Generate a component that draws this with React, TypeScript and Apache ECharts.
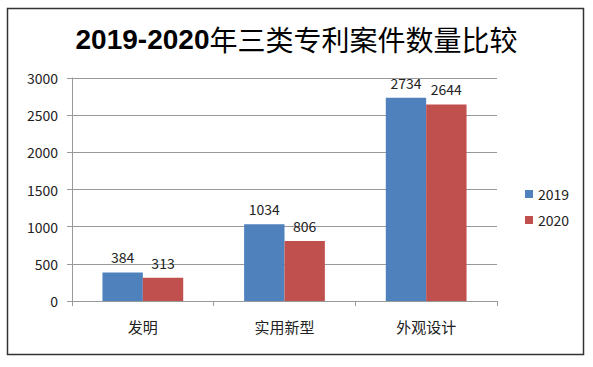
import React, { useEffect, useRef } from "react";
import * as echarts from "echarts";

const categories = ["发明", "实用新型", "外观设计"];
const series2019 = [384, 1034, 2734];
const series2020 = [313, 806, 2644];
const yTicks = [0, 500, 1000, 1500, 2000, 2500, 3000];

export default function App() {
  const ref = useRef<HTMLDivElement>(null);
  useEffect(() => {
    const chart = echarts.init(ref.current!, null, { renderer: "svg" });
    const font = "'Noto Sans CJK SC', 'Liberation Sans', sans-serif";
    const labelStyle = {
      show: true,
      position: "top" as const,
      distance: 8,
      color: "#222",
      fontSize: 14,
      fontFamily: font,
    };
    chart.setOption({
      animation: false,
      backgroundColor: "#fff",
      textStyle: { fontFamily: font },
      title: {
        text: "{b|2019-2020}{n|年三类专利案件数量比较}",
        left: "center",
        top: 20,
        textStyle: {
          rich: {
            b: { fontSize: 28, fontWeight: "bold", color: "#000", fontFamily: "'Liberation Sans', sans-serif" },
            n: { fontSize: 28, fontWeight: "normal", color: "#000", fontFamily: font },
          },
        },
      },
      graphic: [
        {
          type: "rect",
          shape: { x: 7.5, y: 8.5, width: 576, height: 346 },
          style: { fill: "none", stroke: "#333", lineWidth: 1.5 },
          silent: true,
        },
      ],
      legend: {
        orient: "vertical",
        left: 520,
        top: 182,
        itemWidth: 8,
        itemHeight: 8,
        itemGap: 12,
        icon: "rect",
        textStyle: { fontSize: 14, color: "#222", fontFamily: font },
        data: ["2019", "2020"],
      },
      grid: { left: 72, right: 96, top: 78, bottom: 66 },
      xAxis: {
        type: "category",
        data: categories,
        axisLine: { lineStyle: { color: "#999" } },
        axisTick: { show: true, length: 5, lineStyle: { color: "#999" } },
        axisLabel: { color: "#222", fontSize: 15, margin: 18, fontFamily: font },
      },
      yAxis: {
        type: "value",
        min: yTicks[0],
        max: yTicks[yTicks.length - 1],
        interval: 500,
        axisLine: { show: true, lineStyle: { color: "#999" } },
        axisTick: { show: true, length: 5, lineStyle: { color: "#999" } },
        axisLabel: {
          color: "#222",
          fontSize: 14,
          margin: 14,
          fontFamily: font,
          formatter: (v: number) => String(v),
        },
        splitLine: { lineStyle: { color: "#999" } },
      },
      series: [
        {
          name: "2019",
          type: "bar",
          data: series2019,
          barGap: "0%",
          barCategoryGap: "43%",
          itemStyle: { color: "#4F81BD" },
          label: labelStyle,
        },
        {
          name: "2020",
          type: "bar",
          data: series2020,
          itemStyle: { color: "#C0504D" },
          label: labelStyle,
        },
      ],
    });
    return () => chart.dispose();
  }, []);
  return (
    <div
      ref={ref}
      style={{ position: "fixed", left: 0, top: 0, width: 593, height: 367 }}
    />
  );
}
